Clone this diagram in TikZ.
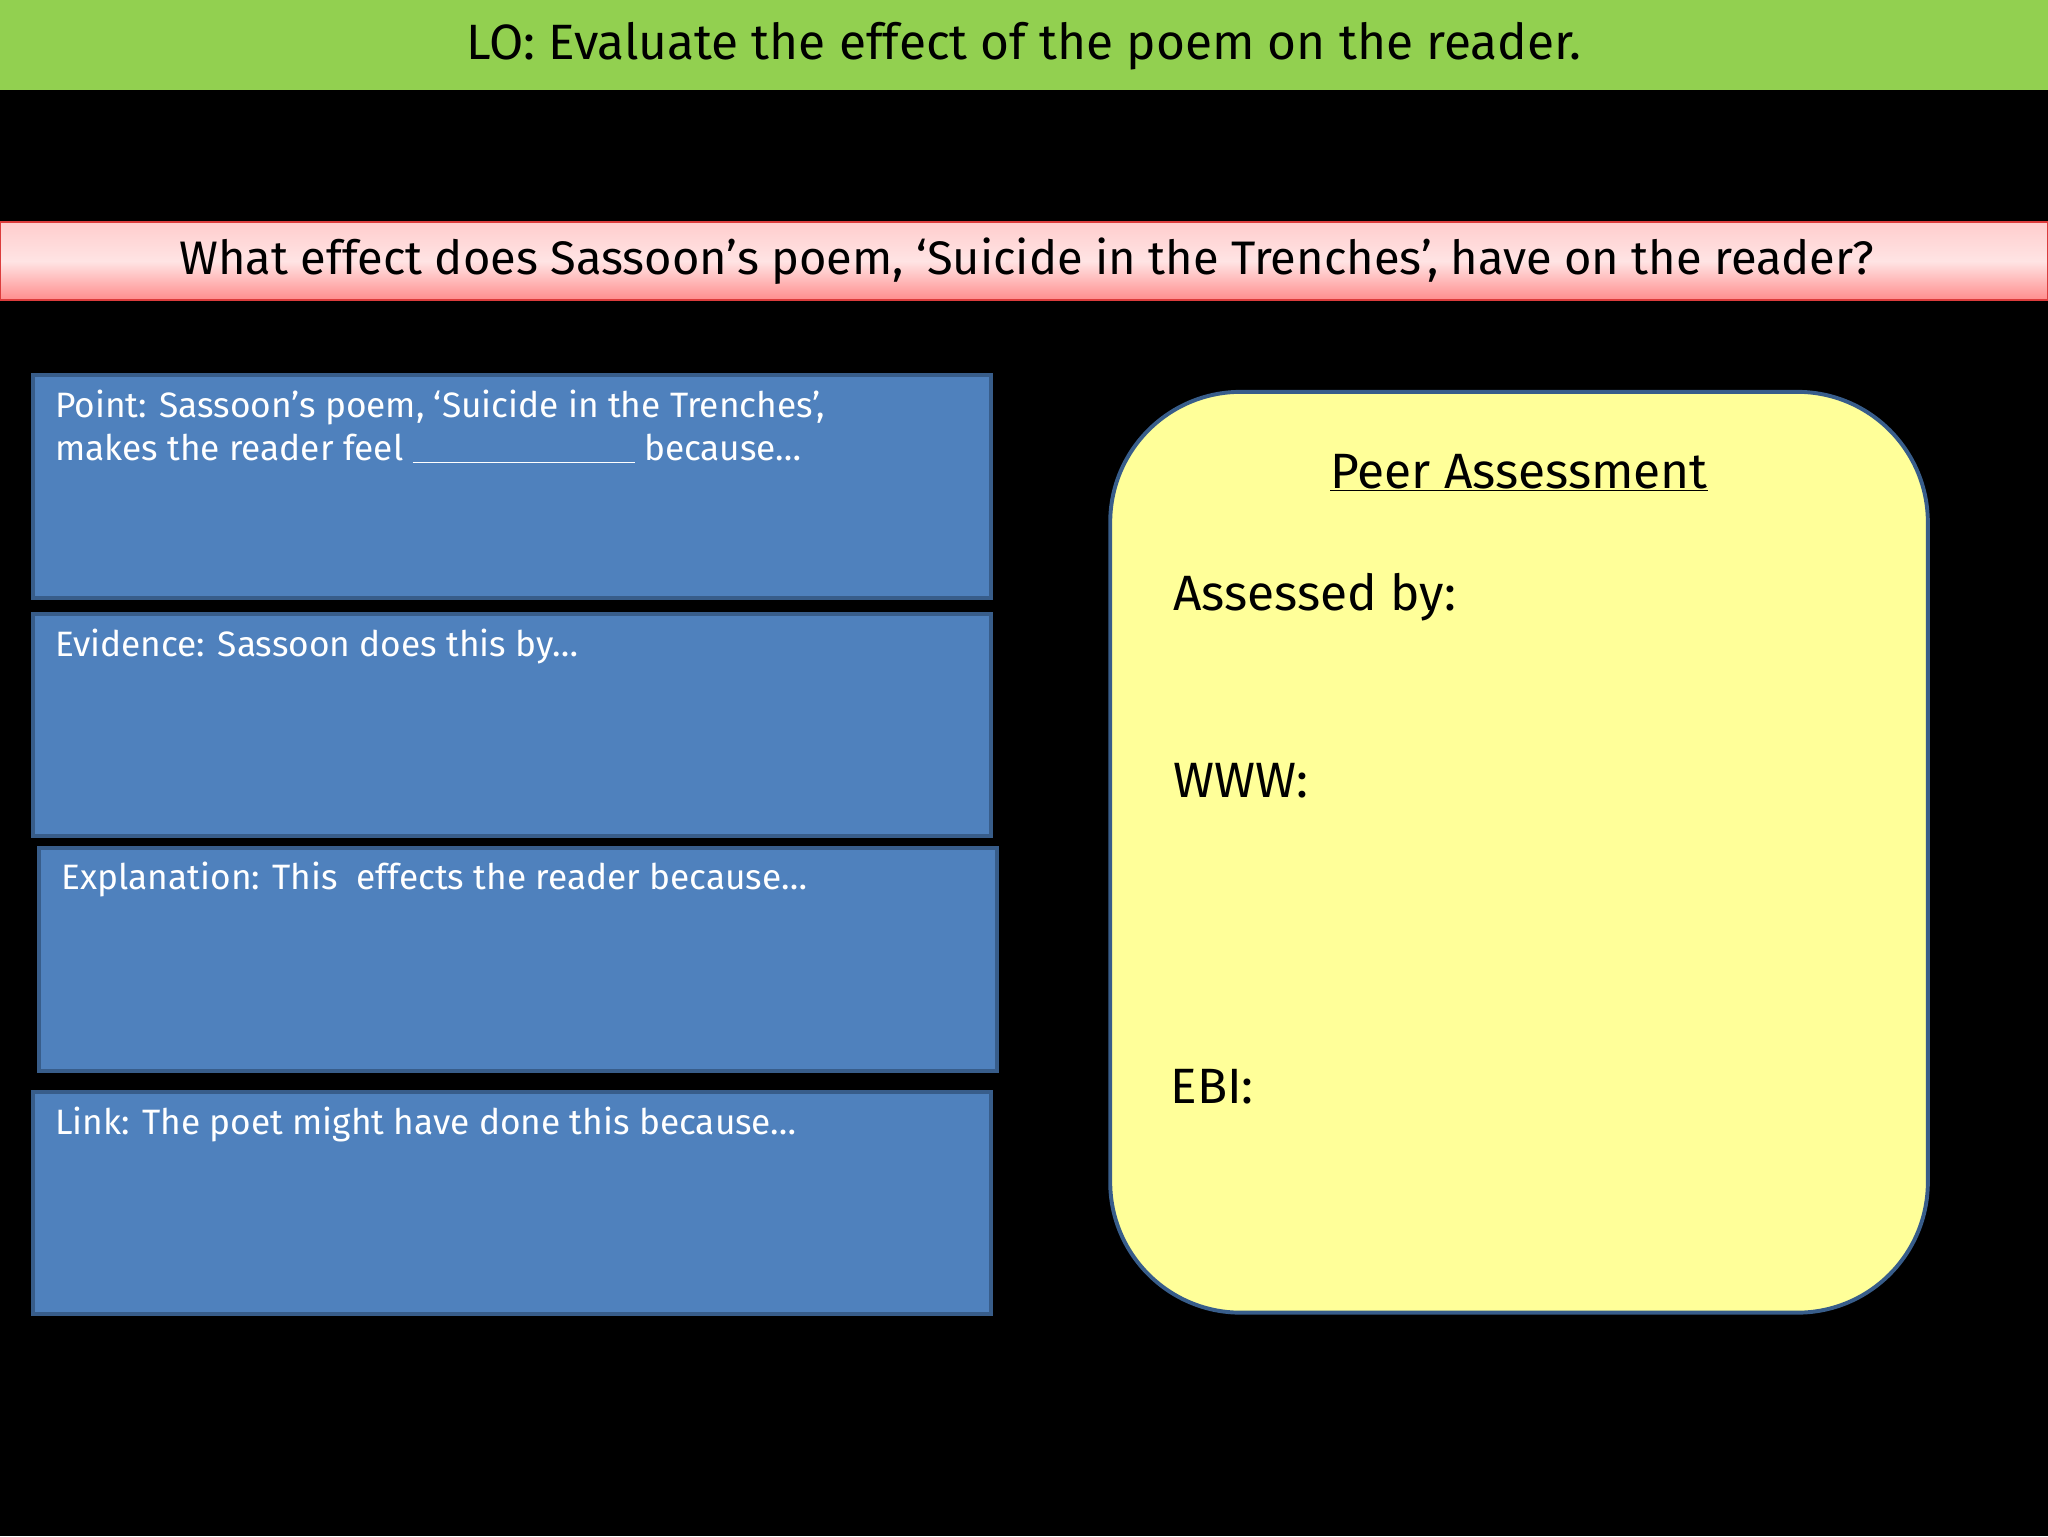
\documentclass[tikz,border=0pt]{standalone}
\usepackage{fontspec}
\setmainfont{Fira Sans}
\definecolor{lgreen}{RGB}{146,208,80}
\definecolor{pinkt}{RGB}{255,205,205}
\definecolor{pinkm}{RGB}{255,228,228}
\definecolor{pinkb}{RGB}{255,140,140}
\definecolor{redb}{RGB}{220,60,60}
\definecolor{bborder}{RGB}{56,93,138}
\definecolor{bfill}{RGB}{79,129,189}
\definecolor{yfill}{RGB}{255,255,153}
\begin{document}
\begin{tikzpicture}[x=1pt,y=-1pt,
 bluebox/.style={draw=bborder, line width=3pt, fill=bfill},
 btxt/.style={anchor=north west, text=white, font=\fontsize{27}{33}\selectfont, align=left, inner sep=0pt},
 ytxt/.style={anchor=west, font=\fontsize{38}{44}\selectfont, inner sep=0pt}]
\useasboundingbox (0,0) rectangle (1568,1176);
\fill[black] (0,0) rectangle (1568,1176);
\fill[lgreen] (0,0) rectangle (1568,69);
\node (lo) at (784,35) {\fontsize{38}{44}\selectfont LO: Evaluate the effect of the poem on the reader.};
\shade[top color=pinkt, bottom color=pinkb, middle color=pinkm] (0,170) rectangle (1568,230);
\draw[redb, line width=1.5pt] (0,170) rectangle (1568,230);
\node (q) at (786,200) {\fontsize{36}{42}\selectfont What effect does Sassoon’s poem, ‘Suicide in the Trenches’, have on the reader?};
\draw[bluebox] (25,287) rectangle (759,458);
\draw[bluebox] (25,470) rectangle (759,640);
\draw[bluebox] (30,649) rectangle (763,820);
\draw[bluebox] (25,836) rectangle (759,1006);
\node[btxt] (p) at (42,298) {Point: Sassoon’s poem, ‘Suicide in the Trenches’,\\makes the reader feel \underline{\hspace{170pt}} because…};
\node[btxt] (e) at (42,481) {Evidence: Sassoon does this by…};
\node[btxt] (x) at (47,660) {Explanation: This\ \ effects the reader because…};
\node[btxt] (l) at (42,847) {Link: The poet might have done this because…};
\draw[bborder, line width=3pt, fill=yfill, rounded corners=100pt] (850,300) rectangle (1476,1005);
\node (pa) at (1163,362) {\fontsize{38}{44}\selectfont\underline{Peer Assessment}};
\node[ytxt] (ab) at (898,457) {Assessed by:};
\node[ytxt] (w) at (898,598) {WWW:};
\node[ytxt] (ebi) at (896,832) {EBI:};
\end{tikzpicture}
\end{document}
